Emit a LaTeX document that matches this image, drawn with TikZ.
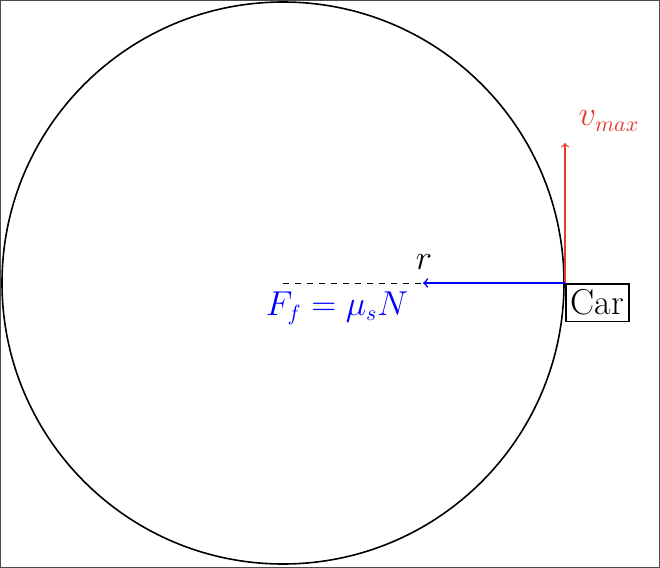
\documentclass[tikz,border=0pt]{standalone}
\definecolor{vred}{RGB}{228,58,48}
\begin{document}
\begin{tikzpicture}[x=0.5pt,y=-0.5pt,
  lbl/.style={inner sep=1pt},
  every node/.style={font=\fontsize{16}{19}\selectfont}]
\useasboundingbox (0,0) rectangle (660,568);
\draw[gray!60!black,line width=0.6pt] (0.6,0.6) rectangle (659.4,567.4);
\coordinate (O) at (283,283);
\coordinate (P) at (565,283);
\draw[thick] (O) circle[radius=281];
\coordinate (R) at (423,283);
\coordinate (V) at (565,143);
\draw[dashed] (O) -- (R);
\node[draw,thick,anchor=north west,inner xsep=2.5pt,inner ysep=3pt,font=\fontsize{18}{21}\selectfont] (car) at (P) {Car};
\draw[vred,->,semithick] (P) -- (V);
\draw[blue,->,thick] (P) -- (R);
\node[vred,lbl] (vl) at (609,121) {$v_{max}$};
\node[lbl] (rl) at (424,262) {$r$};
\node[blue,lbl] (fl) at (337,308) {$F_f=\mu_s N$};
\end{tikzpicture}
\end{document}
